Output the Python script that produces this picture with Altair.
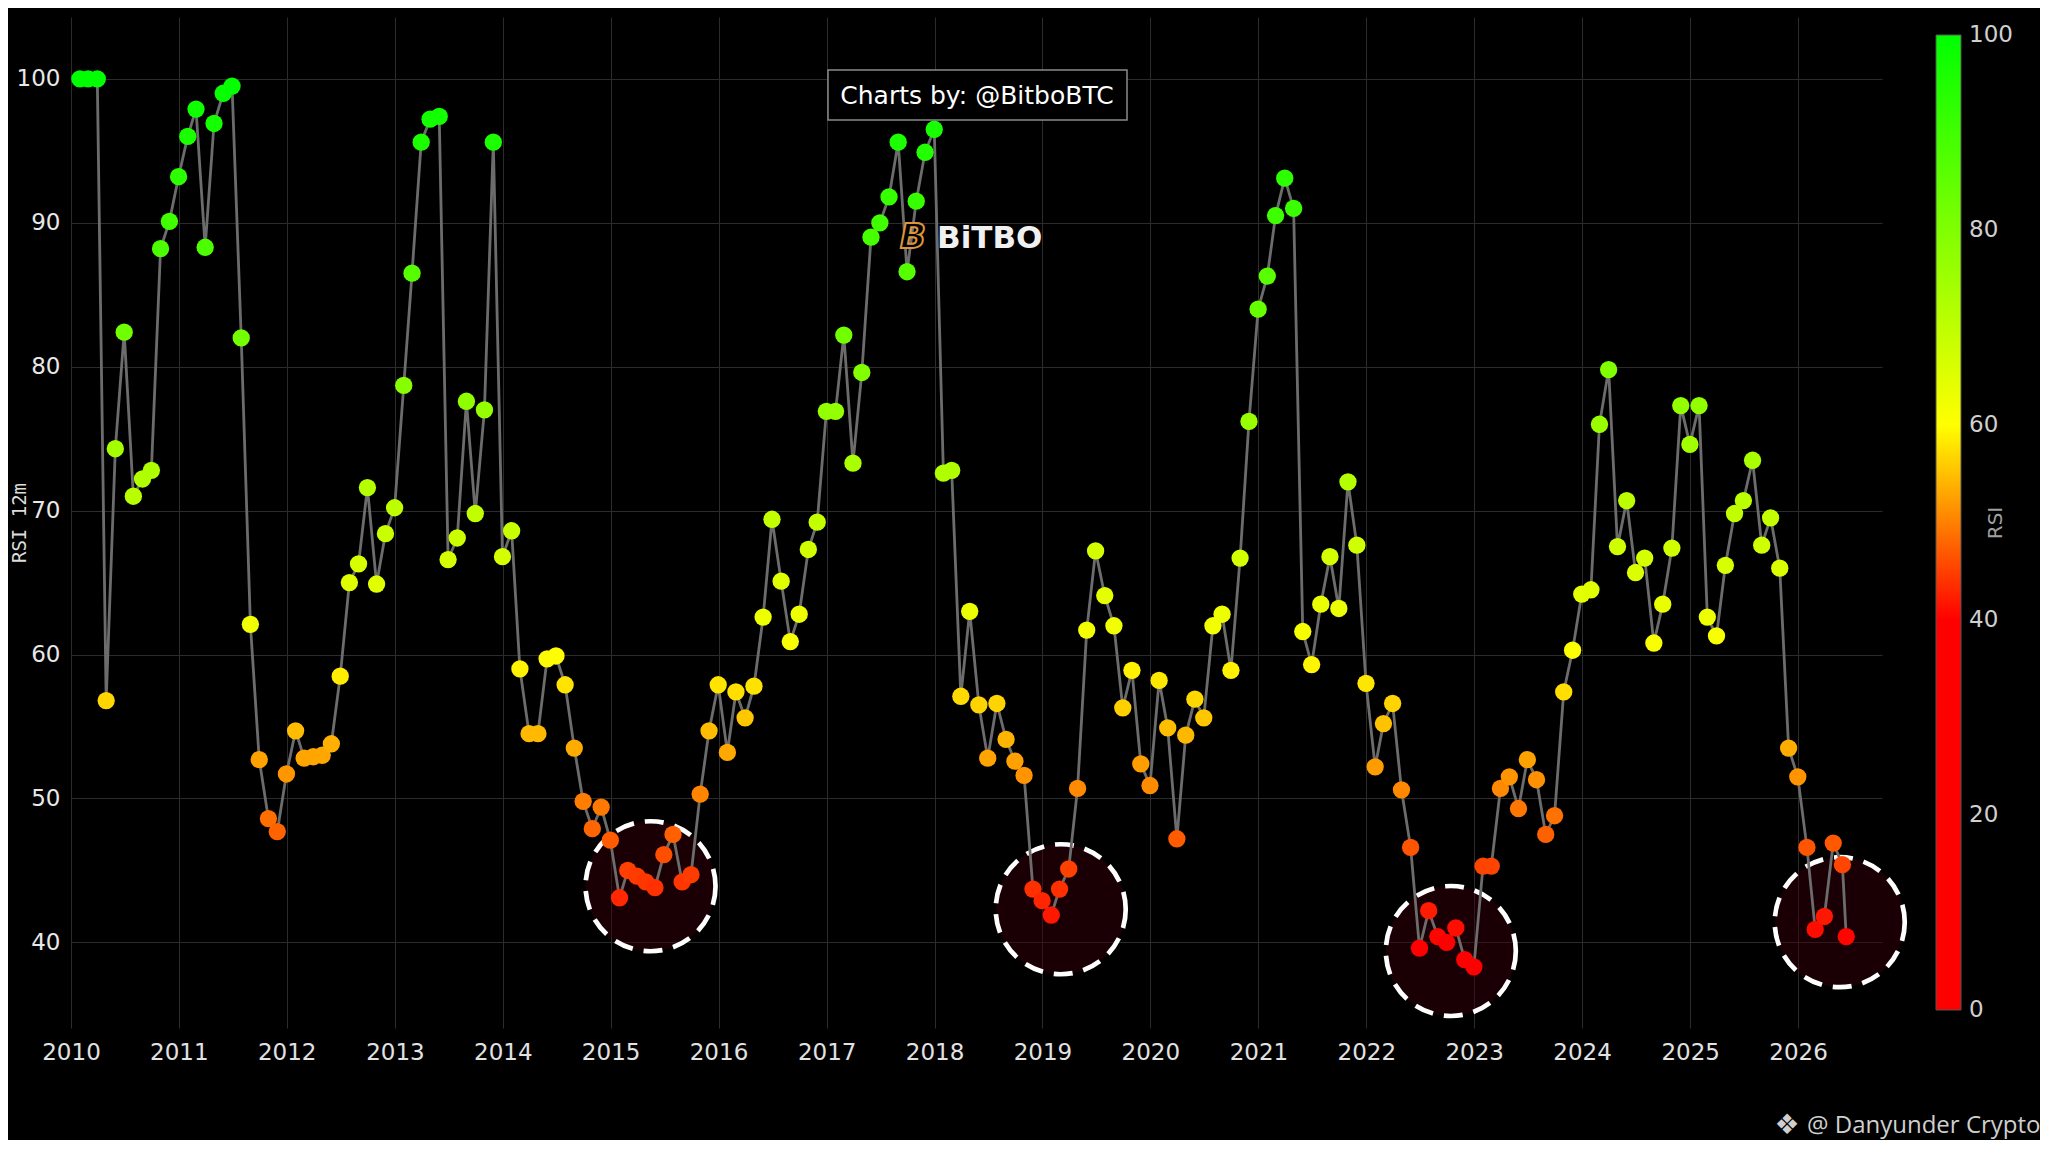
import calendar
import altair as alt
import pandas as pd

# ---- monthly 12m RSI values ----
rsi_2010 = [100, 100, 100, 56.8, 74.3, 82.4, 71.0, 72.2, 72.8, 88.2, 90.1, 93.2]
rsi_2011 = [96.0, 97.9, 88.3, 96.9, 99.0, 99.5, 82.0, 62.1, 52.7, 48.6, 47.7, 51.7]
rsi_2012 = [54.7, 52.8, 52.9, 53.0, 53.8, 58.5, 65.0, 66.3, 71.6, 64.9, 68.4, 70.2]
rsi_2013 = [78.7, 86.5, 95.6, 97.2, 97.4, 66.6, 68.1, 77.6, 69.8, 77.0, 95.6, 66.8]
rsi_2014 = [68.6, 59.0, 54.5, 54.5, 59.7, 59.9, 57.9, 53.5, 49.8, 47.9, 49.4, 47.1]
rsi_2015 = [43.1, 45.0, 44.6, 44.2, 43.8, 46.1, 47.5, 44.2, 44.7, 50.3, 54.7, 57.9]
rsi_2016 = [53.2, 57.4, 55.6, 57.8, 62.6, 69.4, 65.1, 60.9, 62.8, 67.3, 69.2, 76.9]
rsi_2017 = [76.9, 82.2, 73.3, 79.6, 89.0, 90.0, 91.8, 95.6, 86.6, 91.5, 94.9, 96.5]
rsi_2018 = [72.6, 72.8, 57.1, 63.0, 56.5, 52.8, 56.6, 54.1, 52.6, 51.6, 43.7, 42.9]
rsi_2019 = [41.9, 43.7, 45.1, 50.7, 61.7, 67.2, 64.1, 62.0, 56.3, 58.9, 52.4, 50.9]
rsi_2020 = [58.2, 54.9, 47.2, 54.4, 56.9, 55.6, 62.0, 62.8, 58.9, 66.7, 76.2, 84.0]
rsi_2021 = [86.3, 90.5, 93.1, 91.0, 61.6, 59.3, 63.5, 66.8, 63.2, 72.0, 67.6, 58.0]
rsi_2022 = [52.2, 55.2, 56.6, 50.6, 46.6, 39.6, 42.2, 40.4, 40.0, 41.0, 38.8, 38.3]
rsi_2023 = [45.3, 45.3, 50.7, 51.5, 49.3, 52.7, 51.3, 47.5, 48.8, 57.4, 60.3, 64.2]
rsi_2024 = [64.5, 76.0, 79.8, 67.5, 70.7, 65.7, 66.7, 60.8, 63.5, 67.4, 77.3, 74.6]
rsi_2025 = [77.3, 62.6, 61.3, 66.2, 69.8, 70.7, 73.5, 67.6, 69.5, 66.0, 53.5, 51.5]
rsi_2026 = [46.6, 40.9, 41.8, 46.9, 45.4]
last_date = "2026-06-13"
last_rsi = 40.4

yearly = [rsi_2010, rsi_2011, rsi_2012, rsi_2013, rsi_2014, rsi_2015, rsi_2016,
          rsi_2017, rsi_2018, rsi_2019, rsi_2020, rsi_2021, rsi_2022, rsi_2023,
          rsi_2024, rsi_2025, rsi_2026]

dates, values = [], []
for i, vals in enumerate(yearly):
    year = 2010 + i
    for j, v in enumerate(vals):
        m = j + 1
        d = calendar.monthrange(year, m)[1]
        dates.append(f"{year}-{m:02d}-{d:02d}")
        values.append(v)
dates.append(last_date)
values.append(last_rsi)
df = pd.DataFrame({"date": dates, "rsi": values})

# highlighted bottoms (dashed circles)
circle_dates = ["2015-05-16", "2019-03-04", "2022-10-14", "2026-05-22"]
circle_rsi = [43.9, 42.3, 39.4, 41.4]
circles = pd.DataFrame({"date": circle_dates, "rsi": circle_rsi})

year_ticks = list(range(2010, 2027))
y_ticks = [40, 50, 60, 70, 80, 90, 100]
legend_ticks = [0, 20, 40, 60, 80, 100]
color_stops = [-0.05, 40, 50, 60, 100.05]
color_range = ["#ff0000", "#ff0000", "#ff8000", "#ffff00", "#00ff00"]

credit_text = "Charts by: @BitboBTC"
logo_text = "BiTBO"
watermark_text = "@ Danyunder Crypto"

W, H = 1811, 1011

x_enc = alt.X(
    "date:T",
    scale=alt.Scale(
        type="utc",
        domain=[alt.DateTime(year=2010, month=1, date=1, utc=True),
                alt.DateTime(year=2026, month=10, date=12, utc=True)],
        nice=False,
    ),
    axis=alt.Axis(
        values=[alt.DateTime(year=y, month=1, date=1, utc=True) for y in year_ticks],
        format="%Y",
        labelFont="DejaVu Sans",
        labelFontSize=23,
        labelColor="#e2e2e2",
        labelPadding=13,
        labelFlush=False,
        labelOverlap=False,
        ticks=False,
        tickSize=0,
        domain=False,
        grid=True,
        gridColor="#2c2c2c",
        gridWidth=1,
        title=None,
    ),
)

y_enc = alt.Y(
    "rsi:Q",
    scale=alt.Scale(domain=[34.05, 104.3], nice=False, zero=False),
    axis=alt.Axis(
        values=y_ticks,
        labelFont="DejaVu Sans",
        labelFontSize=23,
        labelColor="#e8e8e8",
        labelPadding=11,
        ticks=False,
        tickSize=0,
        domain=False,
        grid=True,
        gridColor="#2c2c2c",
        gridWidth=1,
        title="RSI 12m",
        titleFont="DejaVu Sans Mono",
        titleFontSize=19,
        titleFontWeight="normal",
        titleColor="#dcdcdc",
        titleAngle=270,
        titleX=-52,
        titleY=H / 2,
        titleAlign="center",
        titleBaseline="middle",
    ),
)

circle_layer = alt.Chart(circles).mark_point(
    shape="circle",
    filled=True,
    fill="#3a0008",
    fillOpacity=0.45,
    stroke="#ffffff",
    strokeWidth=4.7,
    strokeDash=[19, 11],
    strokeOpacity=1,
    opacity=1,
    size=16900,
).encode(x=x_enc, y=y_enc)

line_layer = alt.Chart(df).mark_line(color="#6c6c6c", strokeWidth=2.8).encode(
    x=x_enc, y=y_enc
)

point_layer = alt.Chart(df).mark_circle(size=300, opacity=1).encode(
    x=x_enc,
    y=y_enc,
    color=alt.Color(
        "rsi:Q",
        scale=alt.Scale(domain=color_stops, range=color_range, interpolate="rgb"),
        legend=alt.Legend(
            title=None,
            orient="none",
            legendX=1865,
            legendY=18,
            direction="vertical",
            gradientLength=975,
            gradientThickness=25,
            gradientStrokeColor="#555555",
            gradientStrokeWidth=1,
            values=legend_ticks,
            labelFont="DejaVu Sans",
            labelFontSize=23,
            labelColor="#d0d0d0",
            labelOffset=8,
            labelBaseline="middle",
            labelOverlap=False,
            padding=0,
            offset=0,
        ),
    ),
)

box_layer = alt.Chart(pd.DataFrame({"label": [credit_text]})).mark_rect(
    fill="#000000", stroke="#8a8a8a", strokeWidth=1.5
).encode(x=alt.value(757), x2=alt.value(1056), y=alt.value(53), y2=alt.value(103))

credit_layer = alt.Chart(pd.DataFrame({"label": [credit_text]})).mark_text(
    font="DejaVu Sans", fontSize=25, color="#ffffff", align="center", baseline="middle"
).encode(text="label:N", x=alt.value(906), y=alt.value(79))

logo_icon = alt.Chart(pd.DataFrame({"label": ["B"]})).mark_text(
    font="DejaVu Sans", fontSize=34, fontWeight="bold", fontStyle="italic",
    fill="#000000", stroke="#dc953c", strokeWidth=2,
    align="center", baseline="middle",
).encode(text="label:N", x=alt.value(842), y=alt.value(221))

logo_layer = alt.Chart(pd.DataFrame({"label": [logo_text]})).mark_text(
    font="DejaVu Sans", fontSize=31, fontWeight="bold", color="#f0f0f0",
    align="left", baseline="middle",
).encode(text="label:N", x=alt.value(866), y=alt.value(222))

wm_icon = alt.Chart(pd.DataFrame({"label": ["\u2756"]})).mark_text(
    font="DejaVu Sans", fontSize=28, color="#cfcfcf", align="center", baseline="middle"
).encode(text="label:N", x=alt.value(1716), y=alt.value(1109))

wm_layer = alt.Chart(pd.DataFrame({"label": [watermark_text]})).mark_text(
    font="Open Sans", fontSize=24, color="#cfcfcf", align="left", baseline="middle"
).encode(text="label:N", x=alt.value(1736), y=alt.value(1109))

cbar_title = alt.Chart(pd.DataFrame({"label": ["RSI"]})).mark_text(
    font="DejaVu Sans", fontSize=20, color="#a0a0a0", angle=270,
    align="center", baseline="middle",
).encode(text="label:N", x=alt.value(1925), y=alt.value(506))

chart = alt.layer(
    circle_layer, line_layer, point_layer, box_layer, credit_layer,
    logo_icon, logo_layer, wm_icon, wm_layer, cbar_title,
).properties(
    width=W,
    height=H,
    autosize=alt.AutoSizeParams(type="none"),
    padding={"left": 63, "top": 9, "right": 158, "bottom": 112},
    background="#000000",
).configure_view(stroke=None)

chart.save("out.html", embed_options={"renderer": "svg", "actions": False})
